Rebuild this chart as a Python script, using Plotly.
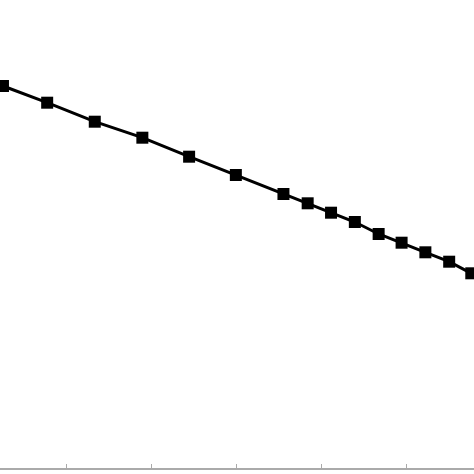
import plotly.graph_objects as go

x_values = [2.5, 7.7, 13.3, 18.9, 24.4, 29.9, 35.5, 38.35, 41.1, 43.9, 46.7, 49.4, 52.2, 55.0, 57.6]
y_values = [382, 365.3, 346.3, 330.3, 311.3, 293, 274, 264.7, 255.3, 246, 234, 225.3, 215.7, 206.3, 194.7]
x_ticks = [0, 10, 20, 30, 40, 50, 60]

fig = go.Figure()
fig.add_trace(go.Scatter(
    x=x_values, y=y_values, mode="lines+markers",
    line=dict(color="black", width=3),
    marker=dict(symbol="square", size=12, color="black"),
    showlegend=False,
))
fig.update_layout(
    width=474, height=474,
    margin=dict(l=0, r=0, t=0, b=6),
    paper_bgcolor="white", plot_bgcolor="white",
    xaxis=dict(range=[2.15, 57.92], tickvals=x_ticks, showticklabels=False,
               ticks="inside", ticklen=4, tickcolor="#aaaaaa", tickwidth=1,
               showline=True, linecolor="#aaaaaa", linewidth=1.5,
               showgrid=False, zeroline=False),
    yaxis=dict(range=[0, 468], visible=False, showgrid=False, zeroline=False),
)
fig.write_html("out.html", config={"displayModeBar": False})

with open("out.html", "r", encoding="utf-8") as f:
    html = f.read()
html = html.replace("<head>", "<head><style>html,body{margin:0;padding:0;overflow:hidden;}</style>", 1)
with open("out.html", "w", encoding="utf-8") as f:
    f.write(html)
